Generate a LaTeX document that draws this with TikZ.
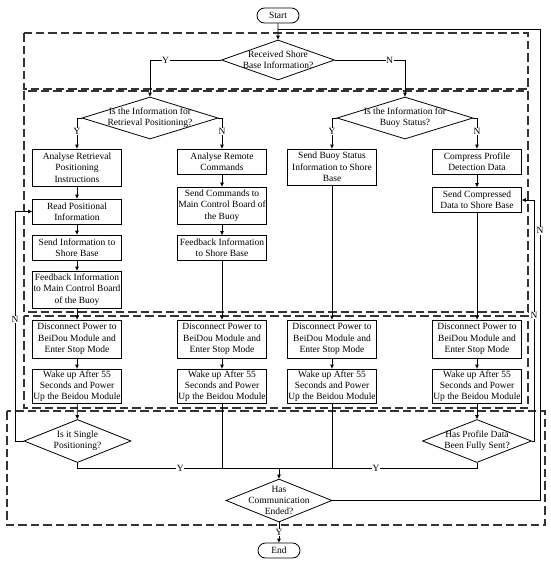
\documentclass[tikz,border=0pt]{standalone}
\usepackage{fontspec}
\setmainfont{Liberation Serif}
\usetikzlibrary{shapes.geometric,shapes.misc,arrows.meta}
\newcommand\myfs{\fontsize{9.5}{11.3}\selectfont}
\begin{document}
\begin{tikzpicture}[x=1pt,y=-1pt,
  box/.style={draw, line width=0.8pt, align=center, minimum width=89pt, inner xsep=1pt, inner ysep=1pt, font=\myfs},
  dia/.style={draw, diamond, inner sep=0pt, line width=0.8pt},
  dtext/.style={align=center, inner sep=0pt, font=\myfs},
  term/.style={draw, rounded rectangle, minimum width=42pt, minimum height=15pt, inner sep=0pt, line width=0.8pt, font=\myfs},
  lbl/.style={fill=white, inner sep=0.6pt, font=\myfs},
  arr/.style={-{Triangle[length=4pt,width=3.5pt]}, line width=0.8pt},
  ln/.style={line width=0.8pt},
  frame/.style={dash pattern=on 8.5pt off 4pt, line width=1.2pt, draw=black!80}]
\useasboundingbox (0,0) rectangle (550,563);

% dashed frames
\draw[frame] (24,33) rectangle (528,89);
\draw[frame] (24,91) rectangle (528,312);
\draw[frame] (24,316) rectangle (528,408);
\draw[frame] (7,411) rectangle (545,525);

% terminals
\node[term] (st) at (278,15.5) {Start};
\node[term] (en) at (279,550.5) {End};

% diamonds
\node[dia, minimum width=113pt, minimum height=40pt] (d1) at (278,60) {};
\node[dtext] (d1t) at (d1) {Received Shore\\Base Information?};
\node[dia, minimum width=136pt, minimum height=42pt] (d2) at (150,118) {};
\node[dtext] (d2t) at (d2) {Is the Information for\\Retrieval Positioning?};
\node[dia, minimum width=136pt, minimum height=42pt] (d3) at (405,118) {};
\node[dtext] (d3t) at (d3) {Is the Information for\\Buoy Status?};
\node[dia, minimum width=107pt, minimum height=43pt] (s1) at (77.5,441) {};
\node[dtext] (s1t) at (s1) {Is it Single\\Positioning?};
\node[dia, minimum width=109pt, minimum height=43pt] (p) at (477,441) {};
\node[dtext] (pt) at (p) {Has Profile Data\\Been Fully Sent?};
\node[dia, minimum width=106pt, minimum height=43pt] (ce) at (279,500.5) {};
\node[dtext] (cet) at (ce) {Has\\Communication\\Ended?};

% column 1
\node[box, minimum height=37pt] (A1) at (77,167.5) {Analyse Retrieval\\Positioning\\Instructions};
\node[box, minimum height=25pt] (A2) at (77,211.5) {Read Positional\\Information};
\node[box, minimum height=25pt] (A3) at (77,247.5) {Send Information to\\Shore Base};
\node[box, minimum height=37pt] (A4) at (77,289.5) {Feedback Information\\to Main Control Board\\of the Buoy};
% column 2
\node[box, minimum height=25pt] (B1) at (222,161.5) {Analyse Remote\\Commands};
\node[box, minimum height=37pt] (B2) at (222,205.5) {Send Commands to\\Main Control Board of\\the Buoy};
\node[box, minimum height=25pt] (B3) at (222,248) {Feedback Information\\to Shore Base};
% column 3
\node[box, minimum height=36pt] (C1) at (332,167) {Send Buoy Status\\Information to Shore\\Base};
% column 4
\node[box, minimum height=25pt] (D1) at (477,161.5) {Compress Profile\\Detection Data};
\node[box, minimum height=25pt] (D2) at (477,200) {Send Compressed\\Data to Shore Base};

% row 3
\foreach \n/\x in {1/77,2/222,3/332,4/477}{
  \node[box, minimum height=38pt] (E\n) at (\x,339) {Disconnect Power to\\BeiDou Module and\\Enter Stop Mode};
  \node[box, minimum height=34pt] (W\n) at (\x,386) {Wake up After 55\\Seconds and Power\\Up the Beidou Module};
  \draw[arr] (E\n) -- (W\n);
}

% coordinates
\coordinate (jt) at (278,29);
\coordinate (ro) at (540,29);
\coordinate (ri) at (534,200);
\coordinate (li) at (15,211.5);
\coordinate (j) at (279,468);

% connectors
\draw[arr] (st) -- (d1);
\draw[arr] (d1.west) -| node[lbl,pos=0.39] (y1) {Y} (d2.north);
\draw[arr] (d1.east) -| node[lbl,pos=0.39] (n1) {N} (d3.north);
\draw[arr] (d2.west) -| node[lbl,pos=0.72] (y2) {Y} (A1.north);
\draw[arr] (d2.east) -| node[lbl,pos=0.72] (n2) {N} (B1.north);
\draw[arr] (d3.west) -| node[lbl,pos=0.72] (y3) {Y} (C1.north);
\draw[arr] (d3.east) -| node[lbl,pos=0.72] (n3) {N} (D1.north);

\draw[arr] (A1) -- (A2);
\draw[arr] (A2) -- (A3);
\draw[arr] (A3) -- (A4);
\draw[arr] (A4) -- (E1);
\draw[arr] (B1) -- (B2);
\draw[arr] (B2) -- (B3);
\draw[arr] (B3) -- (E2);
\draw[arr] (C1) -- (E3);
\draw[arr] (D1) -- (D2);
\draw[arr] (D2) -- (E4);

\draw[arr] (W1) -- (s1);
\draw[arr] (W4) -- (p);
\draw[ln] (W2.south) -- (W2.south |- j);
\draw[ln] (W3.south) -- (W3.south |- j);
\draw[ln] (s1.south) |- node[lbl,pos=0.755] (y4) {Y} (j);
\draw[ln] (p.south) |- node[lbl,pos=0.755] (y5) {Y} (j);
\draw[arr] (j) -- (ce);
\draw[arr] (ce) -- node[lbl] (y6) {Y} (en);

% loops
\draw[ln] (ce.east) -| node[lbl,pos=0.786] (n4) {N} (ro) -- (jt);
\draw[arr] (p.east) -| node[lbl,pos=0.76] (n5) {N} (ri) -- (D2.east);
\draw[arr] (s1.west) -| node[lbl,pos=0.765] (n6) {N} (li) -- (A2.west);
\end{tikzpicture}
\end{document}
